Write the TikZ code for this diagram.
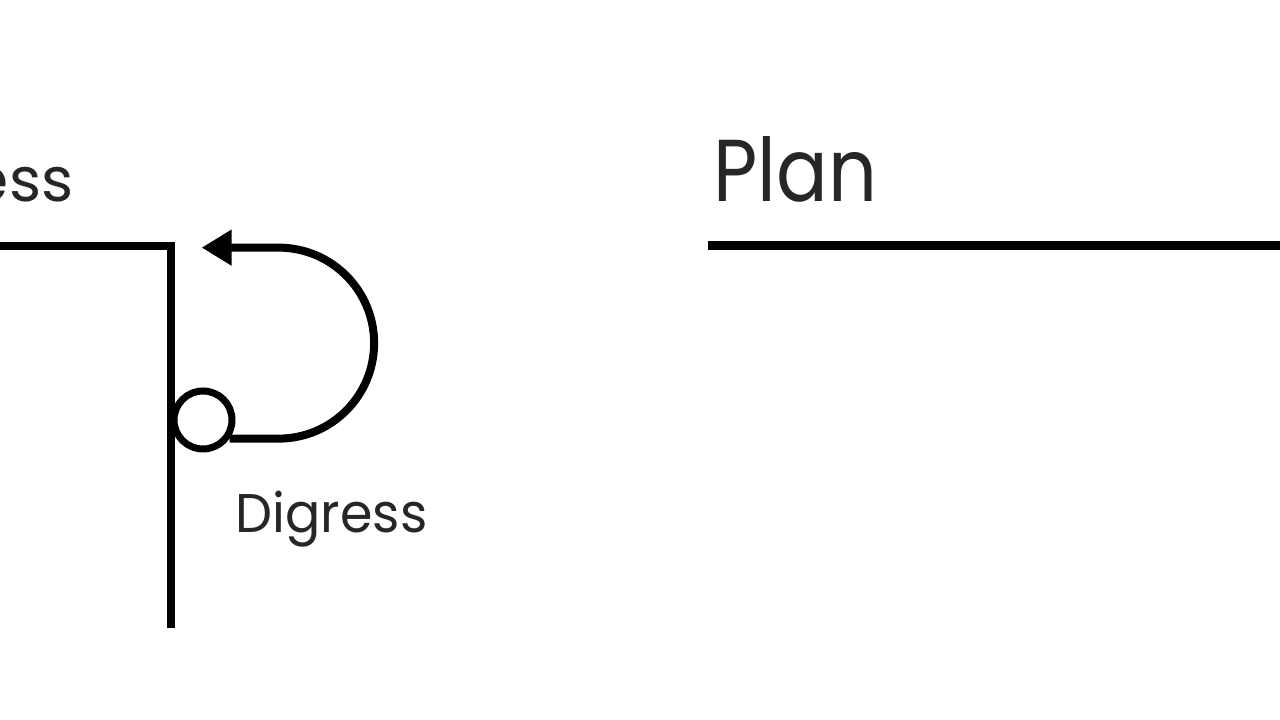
\documentclass[tikz,border=0pt]{standalone}
\usepackage{fontspec}
\setmainfont{Poppins}
\usetikzlibrary{arrows.meta}

\begin{document}
\begin{tikzpicture}[>={Triangle[length=0.3cm,width=0.34cm]},line cap=butt,
  stroke/.style={line width=0.08cm,draw=black},
  label node/.style={inner sep=0pt,text=black!85},
  dot node/.style={circle,draw,line width=0.07cm,minimum size=0.58cm,inner sep=0pt}]
  \useasboundingbox (0,0) rectangle (12.8,7.2);

  % texts
  \node[label node,anchor=base east,font=\fontsize{17.5}{20}\selectfont] (ess) at (0.74,5.18) {ess};
  \node[label node,anchor=base west,xscale=0.96,font=\fontsize{15.5}{18}\selectfont] (digress) at (2.35,1.87) {Digress};
  \node[label node,anchor=base west,xscale=0.87,font=\fontsize{25}{30}\selectfont] (plan) at (7.13,5.18) {Plan};

  % main path and the side loop
  \coordinate (start) at (0,4.74);
  \coordinate (corner) at (1.71,4.74);
  \coordinate (end) at (1.71,0.92);
  \node[dot node] (dot) at (2.03,3.0) {};
  \draw[stroke] (start) -- (corner) -- (end);
  \draw[stroke,->] (dot.-35) -- ++(0.49,0) arc[start angle=-90,end angle=90,radius=0.955] -- ++(-0.77,0);

  % plan line
  \coordinate (planstart) at (7.08,4.74);
  \coordinate (planend) at (12.8,4.74);
  \draw[stroke,line width=0.09cm] (planstart) -- (planend);
\end{tikzpicture}
\end{document}
